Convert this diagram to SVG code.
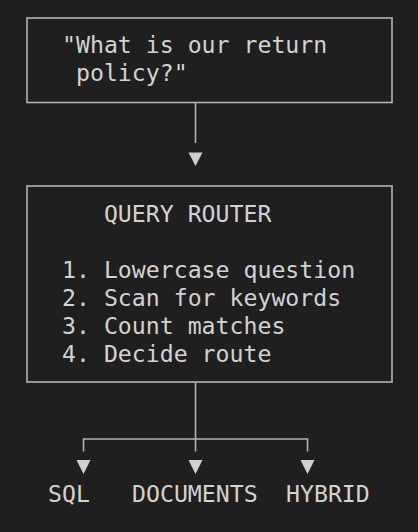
<svg xmlns="http://www.w3.org/2000/svg" width="418" height="532" viewBox="0 0 418 532">
<style>
.bg{fill:#1f1f1f}
.box{fill:none;stroke:#b4b4b4;stroke-width:1.6}
.ln{fill:none;stroke:#b4b4b4;stroke-width:1.6}
.ah{fill:#cfcfcf}
text{font-family:"DejaVu Sans Mono","Liberation Mono",monospace;font-size:23.2px;fill:#d2d2d2;white-space:pre}
</style>
<rect class="bg" x="0" y="0" width="418" height="532"/>
<g id="question">
<rect class="box" x="27" y="18" width="365" height="84.5"/>
<text x="62" y="53">"What is our return</text>
<text x="62" y="81"> policy?"</text>
</g>
<g id="router">
<rect class="box" x="27" y="186" width="365" height="196"/>
<text x="62" y="222">   QUERY ROUTER</text>
<text x="62" y="278">1. Lowercase question</text>
<text x="62" y="306">2. Scan for keywords</text>
<text x="62" y="334">3. Count matches</text>
<text x="62" y="362">4. Decide route</text>
</g>
<g id="sql"><text x="48" y="502">SQL</text></g>
<g id="documents"><text x="132" y="502">DOCUMENTS</text></g>
<g id="hybrid"><text x="286" y="502">HYBRID</text></g>
<g id="connectors">
<path class="ln" d="M195.5 103V143"/>
<polygon class="ah" points="188.5,152.5 202.5,152.5 195.5,166"/>
<path class="ln" d="M195.5 382V451.5M83.5 451.5V439H307.5V451.5"/>
<polygon class="ah" points="76.5,460 90.5,460 83.5,474"/>
<polygon class="ah" points="188.5,460 202.5,460 195.5,474"/>
<polygon class="ah" points="300.5,460 314.5,460 307.5,474"/>
</g>
</svg>
